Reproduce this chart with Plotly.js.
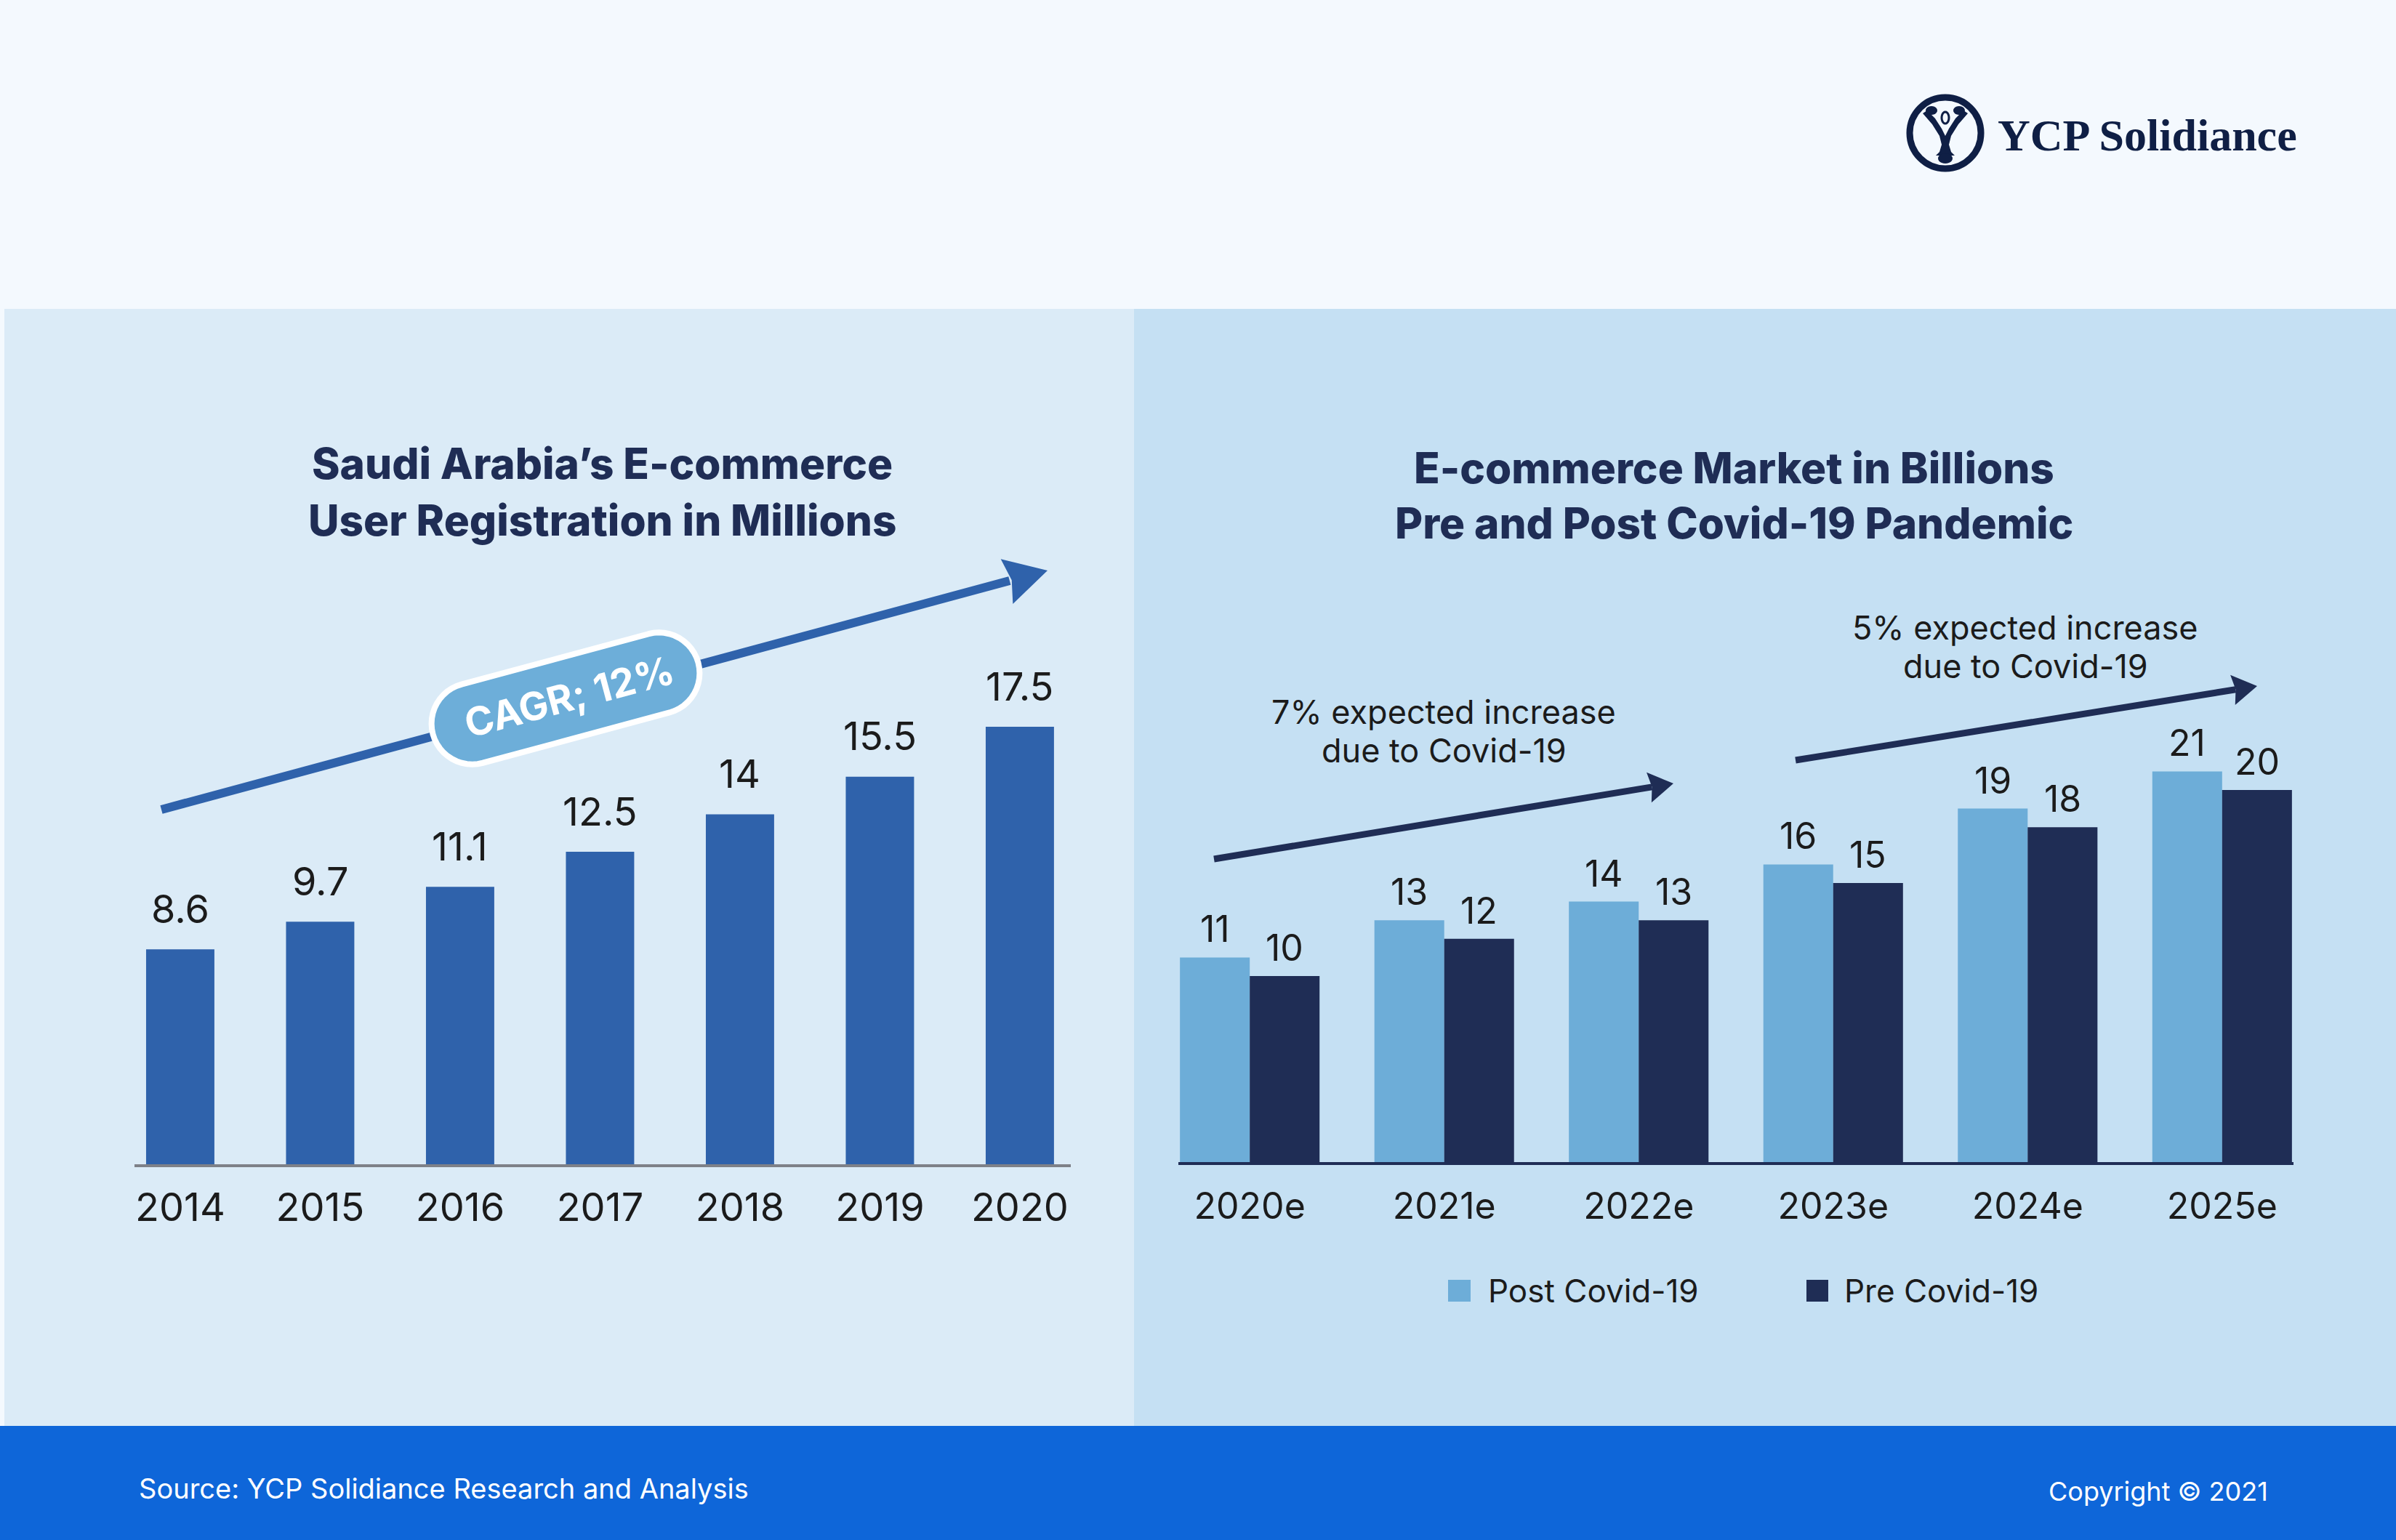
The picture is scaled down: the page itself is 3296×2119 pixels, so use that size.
<!DOCTYPE html>
<html>
<head>
<meta charset="utf-8">
<script src="https://cdn.plot.ly/plotly-3.0.1.min.js"></script>
<style>
  html, body { margin: 0; padding: 0; background: #F4F9FE; }
  #chart { width: 3296px; height: 2119px; }
</style>
</head>
<body>
<div id="chart"></div>
<script>
// ---- data ----
const regYears = ['2014', '2015', '2016', '2017', '2018', '2019', '2020'];
const regUsers = [8.6, 9.7, 11.1, 12.5, 14, 15.5, 17.5];

const mktYears = ['2020e', '2021e', '2022e', '2023e', '2024e', '2025e'];
const postCovid = [11, 13, 14, 16, 19, 21];
const preCovid = [10, 12, 13, 15, 18, 20];
const seriesNames = ['Post Covid-19', 'Pre Covid-19'];

const leftTitle = ['Saudi Arabia\u2019s E-commerce', 'User Registration in Millions'];
const rightTitle = ['E-commerce Market in Billions', 'Pre and Post Covid-19 Pandemic'];
const cagrText = 'CAGR; 12%';
const noteA = ['7% expected increase', 'due to Covid-19'];
const noteB = ['5% expected increase', 'due to Covid-19'];
const sourceText = 'Source: YCP Solidiance Research and Analysis';
const copyText = 'Copyright \u00A9 2021';
const brandText = 'YCP Solidiance';

// ---- page geometry helpers (pixels -> paper) ----
const W = 3296, H = 2119;
const px = x => x / W;
const py = y => 1 - y / H;
const FONT = 'Inter, "Open Sans", sans-serif';
const NAVY = '#1F2D55';
const INK = '#1b1b1b';

function pathFrom(points, close = true) {
  return points.map((p, i) => (i ? 'L' : 'M') + px(p[0]).toFixed(5) + ',' + py(p[1]).toFixed(5)).join(' ') + (close ? ' Z' : '');
}

function rect(x0, y0, x1, y1, color) {
  return { type: 'rect', xref: 'paper', yref: 'paper', x0: px(x0), x1: px(x1), y0: py(y1), y1: py(y0),
           fillcolor: color, line: { width: 0 }, layer: 'below' };
}

// straight arrow with a filled triangular head
function arrow(sx, sy, tx, ty, width, headLen, headHalf, color) {
  const dx = tx - sx, dy = ty - sy, len = Math.hypot(dx, dy);
  const ux = dx / len, uy = dy / len, nx = -uy, ny = ux;
  const bx = tx - headLen * ux, by = ty - headLen * uy;
  const line = { type: 'line', xref: 'paper', yref: 'paper',
                 x0: px(sx), y0: py(sy), x1: px(bx + 4 * ux), y1: py(by + 4 * uy),
                 line: { color: color, width: width } };
  const head = { type: 'path', xref: 'paper', yref: 'paper',
                 path: pathFrom([[tx, ty], [bx + headHalf * nx, by + headHalf * ny],
                                 [bx + 0.12 * headLen * ux, by + 0.12 * headLen * uy],
                                 [bx - headHalf * nx, by - headHalf * ny]]),
                 fillcolor: color, line: { width: 0 } };
  return [line, head];
}

// rotated capsule badge
function capsule(cx, cy, ang, len, h) {
  const r = h / 2, half = len / 2 - r;
  const ux = Math.cos(ang), uy = Math.sin(ang), nx = -uy, ny = ux;
  const pts = [];
  for (let k = 0; k <= 24; k++) {
    const t = -Math.PI / 2 + Math.PI * k / 24;
    pts.push([cx + half * ux + r * (Math.cos(t) * ux + Math.sin(t) * nx),
              cy + half * uy + r * (Math.cos(t) * uy + Math.sin(t) * ny)]);
  }
  for (let k = 0; k <= 24; k++) {
    const t = Math.PI / 2 + Math.PI * k / 24;
    pts.push([cx - half * ux + r * (Math.cos(t) * ux + Math.sin(t) * nx),
              cy - half * uy + r * (Math.cos(t) * uy + Math.sin(t) * ny)]);
  }
  return pts;
}

// ---- traces ----
const traces = [
  { type: 'bar', x: regYears, y: regUsers, xaxis: 'x', yaxis: 'y', width: 0.488,
    marker: { color: '#2F62AB', line: { width: 0 } }, showlegend: false, hoverinfo: 'skip' },
  { type: 'bar', name: seriesNames[0], x: mktYears, y: postCovid, xaxis: 'x2', yaxis: 'y2',
    offset: -0.359, width: 0.359, marker: { color: '#6DADD8', line: { width: 0 } },
    showlegend: false, hoverinfo: 'skip' },
  { type: 'bar', name: seriesNames[1], x: mktYears, y: preCovid, xaxis: 'x2', yaxis: 'y2',
    offset: 0, width: 0.359, marker: { color: NAVY, line: { width: 0 } },
    showlegend: false, hoverinfo: 'skip' }
];

// ---- annotations ----
const ann = [];
const txt = (x, y, text, size, color, opts = {}) => Object.assign({
  xref: 'paper', yref: 'paper', x: px(x), y: py(y), text: text, showarrow: false,
  xanchor: 'center', yanchor: 'middle', font: { family: FONT, size: size, color: color }
}, opts);

// value labels (category index positions, so year strings are not read as numbers)
regYears.forEach((c, i) => ann.push({ xref: 'x', yref: 'y', x: i, y: regUsers[i], text: String(regUsers[i]),
  showarrow: false, yanchor: 'middle', yshift: 56, font: { family: FONT, size: 54, color: INK } }));
mktYears.forEach((c, i) => {
  ann.push({ xref: 'x2', yref: 'y2', x: i, y: postCovid[i], text: String(postCovid[i]), showarrow: false,
    yanchor: 'middle', xshift: -48, yshift: 39, font: { family: FONT, size: 50, color: INK } });
  ann.push({ xref: 'x2', yref: 'y2', x: i, y: preCovid[i], text: String(preCovid[i]), showarrow: false,
    yanchor: 'middle', xshift: 48, yshift: 39, font: { family: FONT, size: 50, color: INK } });
});

// chart titles
const titleFont = { family: FONT, size: 58.5, color: NAVY, weight: 800 };
ann.push(txt(828, 637, leftTitle[0], 58.5, NAVY, { font: titleFont }));
ann.push(txt(828, 715, leftTitle[1], 58.5, NAVY, { font: titleFont }));
ann.push(txt(2385, 643, rightTitle[0], 58.5, NAVY, { font: titleFont }));
ann.push(txt(2385, 719, rightTitle[1], 58.5, NAVY, { font: titleFont }));

// notes on the market chart
ann.push(txt(1986, 980, noteA[0], 45, INK));
ann.push(txt(1986, 1032, noteA[1], 45, INK));
ann.push(txt(2786, 864, noteB[0], 45, INK));
ann.push(txt(2786, 916, noteB[1], 45, INK));

// growth badge text
ann.push(txt(783, 958, cagrText, 54, '#FFFFFF', { textangle: -15,
  font: { family: FONT, size: 54, color: '#FFFFFF', weight: 700 } }));

// legend labels
ann.push(txt(2045, 1776, seriesNames[0], 44, INK, { xanchor: 'left' }));
ann.push(txt(2535, 1776, seriesNames[1], 44, INK, { xanchor: 'left' }));

// footer
ann.push(txt(189, 2048, sourceText, 38, '#FFFFFF', { xanchor: 'left' }));
ann.push(txt(3122, 2052, copyText, 36, '#FFFFFF', { xanchor: 'right' }));

// brand
ann.push(txt(2746, 186, brandText, 62, '#0F1F45', { xanchor: 'left',
  font: { family: '"Liberation Serif", "DejaVu Serif", serif', size: 62, color: '#0F1F45', weight: 700 } }));

// ---- shapes ----
const shapes = [
  rect(6, 425, 1560, 1962, '#DBEBF7'),
  rect(1560, 425, W, 1962, '#C5E0F3'),
  rect(0, 1962, W, H, '#0E66D9'),
  // legend keys
  Object.assign(rect(1992, 1761, 2023, 1791, '#6DADD8'), { layer: 'above' }),
  Object.assign(rect(2485, 1761, 2515, 1791, NAVY), { layer: 'above' })
];

// growth arrows
shapes.push(...arrow(222, 1114, 1441, 785, 12, 58, 32, '#2F62AB'));
shapes.push(...arrow(1670, 1182, 2302, 1078, 9, 34, 21, NAVY));
shapes.push(...arrow(2470, 1046, 3105, 944, 9, 34, 21, NAVY));

// CAGR badge on top of the left arrow
const ang = Math.atan2(785 - 1114, 1441 - 222);
shapes.push({ type: 'path', xref: 'paper', yref: 'paper', path: pathFrom(capsule(778, 961, ang, 378, 112)),
  fillcolor: '#6DAED9', line: { color: '#FFFFFF', width: 8 } });

// brand emblem: ring + stylised Y
const LC = [2676, 183];
const L = pts => pathFrom(pts.map(p => [LC[0] + p[0], LC[1] + p[1]]));
shapes.push({ type: 'circle', xref: 'paper', yref: 'paper', x0: px(2627), x1: px(2725), y0: py(232), y1: py(134),
  line: { color: '#0F1F45', width: 9 } });
function blob(cx, cy, rx, ry) {
  const pts = [];
  for (let k = 0; k < 24; k++) { const t = 2 * Math.PI * k / 24; pts.push([cx + rx * Math.cos(t), cy + ry * Math.sin(t)]); }
  return pts;
}
shapes.push({ type: 'path', xref: 'paper', yref: 'paper', fillcolor: '#0F1F45', line: { width: 0 },
  path: L([[-31, -27], [-25, -31], [-14, -20], [-5, -6], [0, 4], [5, -6], [14, -20], [25, -31], [31, -27],
           [18, -12], [8, 4], [5, 16], [8, 26], [13, 31], [-13, 31], [-8, 26], [-5, 16], [-8, 4], [-18, -12]]) });
shapes.push({ type: 'path', xref: 'paper', yref: 'paper', fillcolor: '#0F1F45', line: { width: 0 }, path: L(blob(0, 35, 10, 7)) });
shapes.push({ type: 'path', xref: 'paper', yref: 'paper', fillcolor: '#0F1F45', line: { width: 0 }, path: L(blob(-19, -31, 8, 6)) });
shapes.push({ type: 'path', xref: 'paper', yref: 'paper', fillcolor: '#0F1F45', line: { width: 0 }, path: L(blob(19, -31, 8, 6)) });
shapes.push({ type: 'path', xref: 'paper', yref: 'paper', fillcolor: 'rgba(0,0,0,0)', line: { color: '#0F1F45', width: 3 }, path: L(blob(0, -21, 5, 8)) });

// ---- layout ----
const axisCommon = { type: 'category', showgrid: false, zeroline: false, ticks: '', showline: true, fixedrange: true };
const layout = {
  width: W, height: H,
  margin: { l: 0, r: 0, t: 0, b: 0, pad: 0 },
  paper_bgcolor: '#F4F9FE', plot_bgcolor: 'rgba(0,0,0,0)',
  barmode: 'overlay', showlegend: false, hovermode: false,
  font: { family: FONT, color: INK },
  xaxis: Object.assign({}, axisCommon, { domain: [px(185), px(1473)], range: [-0.327, 6.364], anchor: 'y',
    linecolor: '#7E8188', linewidth: 4, ticklabelstandoff: 9, tickfont: { family: FONT, size: 54, color: INK } }),
  yaxis: { domain: [py(1602), py(914)], range: [0, 20], visible: false, fixedrange: true, anchor: 'x' },
  xaxis2: Object.assign({}, axisCommon, { domain: [px(1621), px(3155)], range: [-0.367, 5.367], anchor: 'y2',
    linecolor: NAVY, linewidth: 4, ticklabelstandoff: 14, tickfont: { family: FONT, size: 50, color: INK } }),
  yaxis2: { domain: [py(1599), py(959)], range: [0, 25], visible: false, fixedrange: true, anchor: 'x2' },
  shapes: shapes,
  annotations: ann
};

Plotly.newPlot('chart', traces, layout, { staticPlot: true, displayModeBar: false });
</script>
</body>
</html>
